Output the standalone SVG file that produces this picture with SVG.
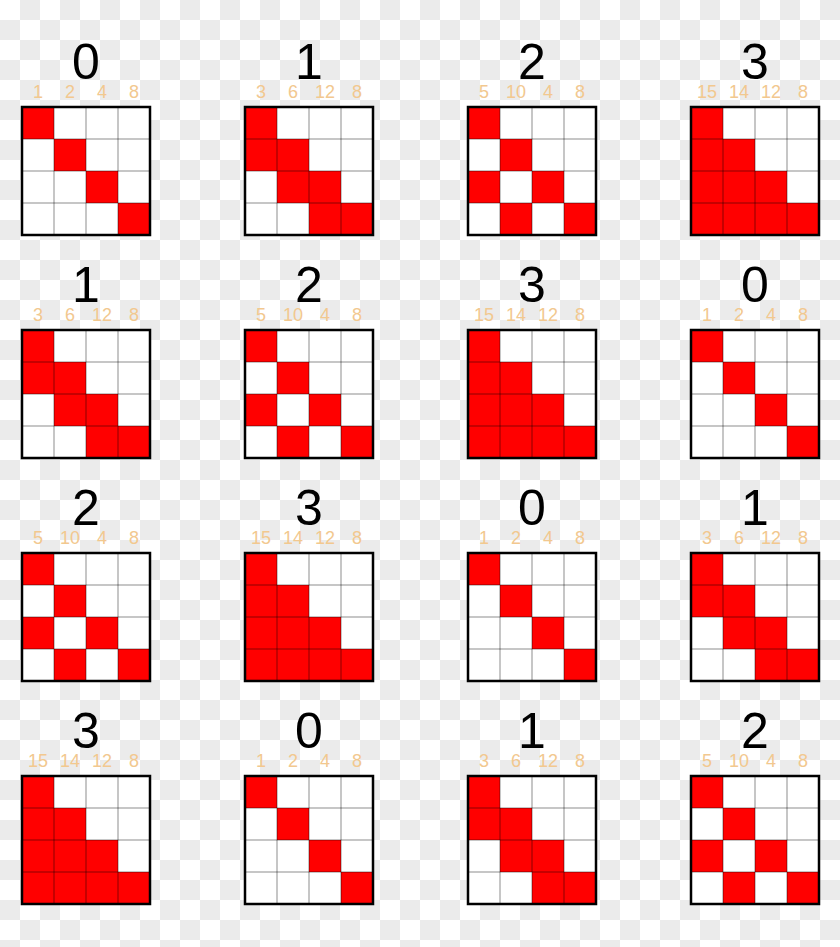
<svg xmlns="http://www.w3.org/2000/svg" xmlns:xlink="http://www.w3.org/1999/xlink" width="840" height="947" viewBox="0 0 840 947">
<style>
.t{font-family:"Liberation Sans",Arial,sans-serif;font-size:50px;fill:#000;text-anchor:middle}
.l{font-family:"Liberation Sans",Arial,sans-serif;font-size:18px;fill:#f2c88f;text-anchor:middle}
.r{fill:#ff0000}
.in{stroke:#000;stroke-opacity:.45;stroke-width:1;fill:none}
.bd{stroke:#000;stroke-width:2.5;fill:none}
</style>
<defs>
<pattern id="chk" width="40" height="40" patternUnits="userSpaceOnUse">
<rect width="40" height="40" fill="#fff"/>
<rect x="20" y="0" width="20" height="20" fill="#ebebeb"/>
<rect x="0" y="20" width="20" height="20" fill="#ebebeb"/>
</pattern>
<path id="lines" class="in" d="M32 0V128M64 0V128M96 0V128M0 32H128M0 64H128M0 96H128"/>
<g id="m0">
<rect width="128" height="128" fill="#fff"/>
<rect class="r" x="0" y="0" width="32" height="32"/><rect class="r" x="32" y="32" width="32" height="32"/><rect class="r" x="64" y="64" width="32" height="32"/><rect class="r" x="96" y="96" width="32" height="32"/>
<use xlink:href="#lines"/><rect class="bd" width="128" height="128"/>
</g>
<g id="m1">
<rect width="128" height="128" fill="#fff"/>
<rect class="r" x="0" y="0" width="32" height="64"/><rect class="r" x="32" y="32" width="32" height="64"/><rect class="r" x="64" y="64" width="32" height="64"/><rect class="r" x="96" y="96" width="32" height="32"/>
<use xlink:href="#lines"/><rect class="bd" width="128" height="128"/>
</g>
<g id="m2">
<rect width="128" height="128" fill="#fff"/>
<rect class="r" x="0" y="0" width="32" height="32"/><rect class="r" x="32" y="32" width="32" height="32"/><rect class="r" x="0" y="64" width="32" height="32"/><rect class="r" x="64" y="64" width="32" height="32"/><rect class="r" x="32" y="96" width="32" height="32"/><rect class="r" x="96" y="96" width="32" height="32"/>
<use xlink:href="#lines"/><rect class="bd" width="128" height="128"/>
</g>
<g id="m3">
<rect width="128" height="128" fill="#fff"/>
<rect class="r" x="0" y="0" width="32" height="128"/><rect class="r" x="32" y="32" width="32" height="96"/><rect class="r" x="64" y="64" width="32" height="64"/><rect class="r" x="96" y="96" width="32" height="32"/>
<use xlink:href="#lines"/><rect class="bd" width="128" height="128"/>
</g>
</defs>
<rect width="840" height="947" fill="url(#chk)"/>

<g id="r1c1" transform="translate(22,107)"><use xlink:href="#m0"/><text class="t" x="64" y="-28">0</text><text class="l" x="16" y="-9">1</text><text class="l" x="48" y="-9">2</text><text class="l" x="80" y="-9">4</text><text class="l" x="112" y="-9">8</text></g>
<g id="r1c2" transform="translate(245,107)"><use xlink:href="#m1"/><text class="t" x="64" y="-28">1</text><text class="l" x="16" y="-9">3</text><text class="l" x="48" y="-9">6</text><text class="l" x="80" y="-9">12</text><text class="l" x="112" y="-9">8</text></g>
<g id="r1c3" transform="translate(468,107)"><use xlink:href="#m2"/><text class="t" x="64" y="-28">2</text><text class="l" x="16" y="-9">5</text><text class="l" x="48" y="-9">10</text><text class="l" x="80" y="-9">4</text><text class="l" x="112" y="-9">8</text></g>
<g id="r1c4" transform="translate(691,107)"><use xlink:href="#m3"/><text class="t" x="64" y="-28">3</text><text class="l" x="16" y="-9">15</text><text class="l" x="48" y="-9">14</text><text class="l" x="80" y="-9">12</text><text class="l" x="112" y="-9">8</text></g>

<g id="r2c1" transform="translate(22,330)"><use xlink:href="#m1"/><text class="t" x="64" y="-28">1</text><text class="l" x="16" y="-9">3</text><text class="l" x="48" y="-9">6</text><text class="l" x="80" y="-9">12</text><text class="l" x="112" y="-9">8</text></g>
<g id="r2c2" transform="translate(245,330)"><use xlink:href="#m2"/><text class="t" x="64" y="-28">2</text><text class="l" x="16" y="-9">5</text><text class="l" x="48" y="-9">10</text><text class="l" x="80" y="-9">4</text><text class="l" x="112" y="-9">8</text></g>
<g id="r2c3" transform="translate(468,330)"><use xlink:href="#m3"/><text class="t" x="64" y="-28">3</text><text class="l" x="16" y="-9">15</text><text class="l" x="48" y="-9">14</text><text class="l" x="80" y="-9">12</text><text class="l" x="112" y="-9">8</text></g>
<g id="r2c4" transform="translate(691,330)"><use xlink:href="#m0"/><text class="t" x="64" y="-28">0</text><text class="l" x="16" y="-9">1</text><text class="l" x="48" y="-9">2</text><text class="l" x="80" y="-9">4</text><text class="l" x="112" y="-9">8</text></g>

<g id="r3c1" transform="translate(22,553)"><use xlink:href="#m2"/><text class="t" x="64" y="-28">2</text><text class="l" x="16" y="-9">5</text><text class="l" x="48" y="-9">10</text><text class="l" x="80" y="-9">4</text><text class="l" x="112" y="-9">8</text></g>
<g id="r3c2" transform="translate(245,553)"><use xlink:href="#m3"/><text class="t" x="64" y="-28">3</text><text class="l" x="16" y="-9">15</text><text class="l" x="48" y="-9">14</text><text class="l" x="80" y="-9">12</text><text class="l" x="112" y="-9">8</text></g>
<g id="r3c3" transform="translate(468,553)"><use xlink:href="#m0"/><text class="t" x="64" y="-28">0</text><text class="l" x="16" y="-9">1</text><text class="l" x="48" y="-9">2</text><text class="l" x="80" y="-9">4</text><text class="l" x="112" y="-9">8</text></g>
<g id="r3c4" transform="translate(691,553)"><use xlink:href="#m1"/><text class="t" x="64" y="-28">1</text><text class="l" x="16" y="-9">3</text><text class="l" x="48" y="-9">6</text><text class="l" x="80" y="-9">12</text><text class="l" x="112" y="-9">8</text></g>

<g id="r4c1" transform="translate(22,776)"><use xlink:href="#m3"/><text class="t" x="64" y="-28">3</text><text class="l" x="16" y="-9">15</text><text class="l" x="48" y="-9">14</text><text class="l" x="80" y="-9">12</text><text class="l" x="112" y="-9">8</text></g>
<g id="r4c2" transform="translate(245,776)"><use xlink:href="#m0"/><text class="t" x="64" y="-28">0</text><text class="l" x="16" y="-9">1</text><text class="l" x="48" y="-9">2</text><text class="l" x="80" y="-9">4</text><text class="l" x="112" y="-9">8</text></g>
<g id="r4c3" transform="translate(468,776)"><use xlink:href="#m1"/><text class="t" x="64" y="-28">1</text><text class="l" x="16" y="-9">3</text><text class="l" x="48" y="-9">6</text><text class="l" x="80" y="-9">12</text><text class="l" x="112" y="-9">8</text></g>
<g id="r4c4" transform="translate(691,776)"><use xlink:href="#m2"/><text class="t" x="64" y="-28">2</text><text class="l" x="16" y="-9">5</text><text class="l" x="48" y="-9">10</text><text class="l" x="80" y="-9">4</text><text class="l" x="112" y="-9">8</text></g>
</svg>
